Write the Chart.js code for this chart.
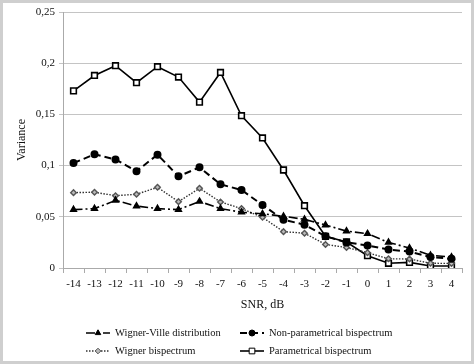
<!DOCTYPE html>
<html>
<head>
<meta charset="utf-8">
<script src="https://cdn.jsdelivr.net/npm/chart.js@4"></script>
<style>
    html, body { margin: 0; padding: 0; background: #fff; }
    #wrap { position: relative; width: 474px; height: 364px; }
</style>
</head>
<body>
<div id="wrap"><canvas id="chart" width="474" height="364"></canvas></div>
<script>
const snr = ['-14', '-13', '-12', '-11', '-10', '-9', '-8', '-7', '-6', '-5', '-4', '-3', '-2', '-1', '0', '1', '2', '3', '4'];
const wignerVille = [0.057, 0.058, 0.066, 0.0605, 0.058, 0.057, 0.065, 0.058, 0.0545, 0.053, 0.0505, 0.0475, 0.042, 0.036, 0.0335, 0.025, 0.0195, 0.0124, 0.0107];
const nonParametric = [0.1025, 0.111, 0.106, 0.0945, 0.1107, 0.0895, 0.0983, 0.0817, 0.0762, 0.0615, 0.0472, 0.0423, 0.031, 0.025, 0.022, 0.018, 0.016, 0.0107, 0.009];
const wignerBispectrum = [0.0736, 0.074, 0.0706, 0.072, 0.0788, 0.0648, 0.0778, 0.0645, 0.058, 0.0495, 0.0355, 0.034, 0.023, 0.02, 0.015, 0.009, 0.0088, 0.0046, 0.0045];
const parametric = [0.173, 0.188, 0.1976, 0.181, 0.1966, 0.1865, 0.162, 0.191, 0.1487, 0.127, 0.0957, 0.0608, 0.031, 0.0254, 0.012, 0.0046, 0.0055, 0.002, 0.002];
const yTickLabels = { 0: '0', 0.05: '0,05', 0.1: '0,1', 0.15: '0,15', 0.2: '0,2', 0.25: '0,25' };

const serif = '"Liberation Serif", "Times New Roman", serif';

// legend drawn as a 2x2 grid under the axis title
const gridLegend = {
    id: 'gridLegend',
    beforeDraw: function (chart) {
        const ctx = chart.ctx;
        ctx.save();
        ctx.fillStyle = '#fff';
        ctx.fillRect(0, 0, chart.width, chart.height);
        ctx.strokeStyle = '#cfcfcf';
        ctx.lineWidth = 3;
        ctx.strokeRect(1.5, 1.5, chart.width - 3, chart.height - 3);
        ctx.restore();
    },
    afterDraw: function (chart) {
        const ctx = chart.ctx;
        const colX = [86, 240];
        const rowY = [333, 351];
        chart.data.datasets.forEach(function (ds, i) {
            const x0 = colX[i % 2];
            const y = rowY[Math.floor(i / 2)];
            ctx.save();
            ctx.strokeStyle = ds.borderColor;
            ctx.lineWidth = ds.borderWidth;
            ctx.setLineDash(ds.borderDash || []);
            ctx.beginPath();
            ctx.moveTo(x0, y);
            ctx.lineTo(x0 + 24, y);
            ctx.stroke();
            ctx.setLineDash([]);
            ctx.fillStyle = ds.pointBackgroundColor;
            ctx.strokeStyle = ds.pointBorderColor;
            ctx.lineWidth = 1;
            Chart.helpers.drawPoint(ctx, {
                pointStyle: ds.pointStyle,
                radius: ds.pointRadius,
                borderWidth: 1,
                rotation: 0
            }, x0 + 12, y);
            ctx.fillStyle = '#111';
            ctx.font = '10.5px ' + serif;
            ctx.textBaseline = 'middle';
            ctx.fillText(ds.label, x0 + 29, y);
            ctx.restore();
        });
    }
};

new Chart(document.getElementById('chart'), {
    type: 'line',
    data: {
        labels: snr,
        datasets: [{
            label: 'Wigner-Ville distribution',
            data: wignerVille,
            borderColor: '#000',
            borderWidth: 1.6,
            borderDash: [9, 3, 2, 3],
            pointStyle: 'triangle',
            pointRadius: 3.2,
            pointBackgroundColor: '#000',
            pointBorderColor: '#000'
        }, {
            label: 'Non-parametrical bispectrum',
            data: nonParametric,
            borderColor: '#000',
            borderWidth: 2,
            borderDash: [7, 4],
            pointStyle: 'circle',
            pointRadius: 3,
            pointBackgroundColor: '#000',
            pointBorderColor: '#000'
        }, {
            label: 'Wigner bispectrum',
            data: wignerBispectrum,
            borderColor: '#333',
            borderWidth: 1.4,
            borderDash: [1.5, 1.5],
            pointStyle: 'rectRot',
            pointRadius: 2.8,
            pointBackgroundColor: '#bbb',
            pointBorderColor: '#555'
        }, {
            label: 'Parametrical bispectrum',
            data: parametric,
            borderColor: '#000',
            borderWidth: 1.6,
            pointStyle: 'rect',
            pointRadius: 4,
            pointBackgroundColor: '#fff',
            pointBorderColor: '#000'
        }]
    },
    options: {
        responsive: false,
        animation: false,
        layout: {
            padding: { top: 12, right: 12, bottom: 0, left: 0 }
        },
        plugins: {
            legend: { display: false },
            tooltip: { enabled: false }
        },
        elements: {
            line: { tension: 0 },
            point: { borderWidth: 1 }
        },
        scales: {
            x: {
                offset: true,
                afterFit: function (scale) { scale.height = 96; },
                border: { color: '#aaa', width: 1 },
                grid: {
                    offset: true,
                    drawOnChartArea: false,
                    drawTicks: true,
                    tickLength: 5,
                    color: '#aaa'
                },
                ticks: {
                    color: '#111',
                    padding: 5,
                    maxRotation: 0,
                    autoSkip: false,
                    font: { family: serif, size: 11 }
                },
                title: {
                    display: true,
                    text: 'SNR, dB',
                    color: '#111',
                    padding: { top: 0, bottom: 52 },
                    font: { family: serif, size: 12 }
                }
            },
            y: {
                min: 0,
                max: 0.25,
                afterFit: function (scale) { scale.width = 63; },
                border: { color: '#aaa', width: 1 },
                grid: {
                    color: '#c4c4c4',
                    tickLength: 4
                },
                ticks: {
                    stepSize: 0.05,
                    color: '#111',
                    padding: 4,
                    font: { family: serif, size: 11 },
                    callback: function (value) {
                        const key = Math.round(value * 100) / 100;
                        return yTickLabels[key] !== undefined ? yTickLabels[key] : '';
                    }
                },
                title: {
                    display: true,
                    text: 'Variance',
                    color: '#111',
                    padding: { top: 15, bottom: 0 },
                    font: { family: serif, size: 12 }
                }
            }
        }
    },
    plugins: [gridLegend]
});
</script>
</body>
</html>
